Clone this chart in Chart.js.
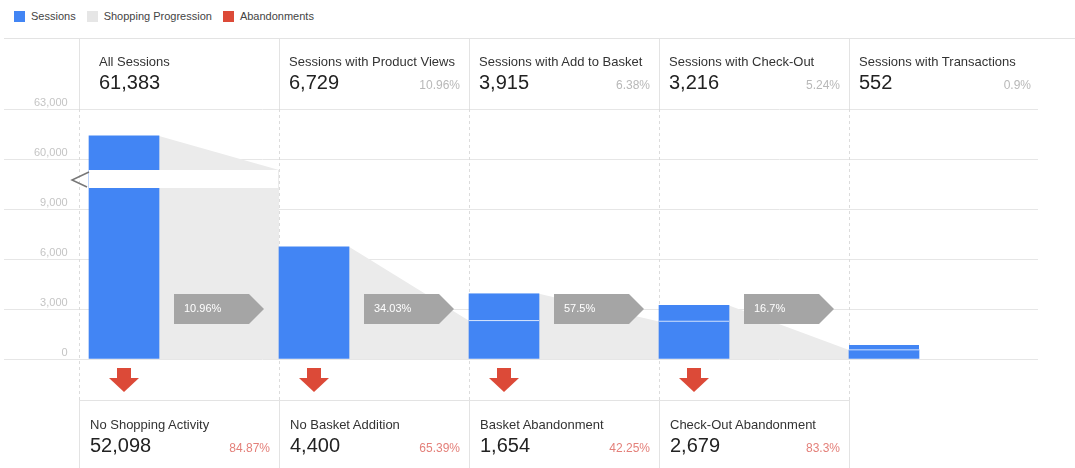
<!DOCTYPE html>
<html>
<head>
<meta charset="utf-8">
<script src="https://cdn.jsdelivr.net/npm/chart.js@4.4.1/dist/chart.umd.min.js"></script>
<style>
  html, body { margin: 0; padding: 0; background: #fff; }
  body { width: 1075px; height: 468px; position: relative; overflow: hidden;
         font-family: Arial, "Liberation Sans", sans-serif; }
  canvas { position: absolute; left: 0; top: 0; }
  #legend { position: absolute; left: 14px; top: 11px; display: flex; align-items: center;
            font-size: 11px; color: #444; line-height: 11px; }
  #legend .item { display: flex; align-items: center; margin-right: 11px; }
  #legend .sw { width: 11px; height: 11px; margin-right: 6px; }
  .topline { position: absolute; left: 4px; right: 0; top: 38px; border-top: 1px solid #e3e3e3; }
  .cell { position: absolute; box-sizing: border-box; border-left: 1px solid #e3e3e3; }
  .cell .t { font-size: 13px; line-height: 15px; color: #333; white-space: nowrap; }
  .cell .v { display: flex; justify-content: space-between; align-items: baseline; margin-top: 2px; }
  .cell .n { font-size: 20px; line-height: 22px; color: #222; }
  .cell .p { font-size: 12px; color: #b8b8b8; }
  .head { top: 39px; height: 70px; padding-top: 15px; padding-right: 9px; }
  .foot { top: 400px; height: 68px; border-top: 1px solid #e3e3e3; padding-top: 16px; padding-right: 9px; }
  .foot .p { font-size: 12px; color: #e4807a; }
</style>
</head>
<body>
<div id="legend">
  <div class="item"><div class="sw" style="background:#4285f4"></div>Sessions</div>
  <div class="item"><div class="sw" style="background:#e6e6e6"></div>Shopping Progression</div>
  <div class="item"><div class="sw" style="background:#dc4a38"></div>Abandonments</div>
</div>
<div class="topline"></div>
<canvas id="chart" width="1075" height="468"></canvas>
<script>
// funnel steps
const steps = ['All Sessions', 'Sessions with Product Views', 'Sessions with Add to Basket',
               'Sessions with Check-Out', 'Sessions with Transactions'];
const sessions = [61383, 6729, 3915, 3216, 552];
const stepShare = [null, '10.96%', '6.38%', '5.24%', '0.9%'];

// sessions moving on from step i to step i+1
const progressRate = ['10.96%', '34.03%', '57.5%', '16.7%'];
const progressed = [6727, 2290, 2251, 537];

// abandonments under each step
const dropLabels = ['No Shopping Activity', 'No Basket Addition', 'Basket Abandonment', 'Check-Out Abandonment'];
const dropped = [52098, 4400, 1654, 2679];
const dropRate = ['84.87%', '65.39%', '42.25%', '83.3%'];

const yTicks = [0, 3000, 6000, 9000, 60000, 63000];

// broken y axis: 10,260 .. 59,340 is cut out
const BREAK_LOW = 10260;
const BREAK_TOP = 59340;
const BREAK_SHIFT = 48000;
const squash = v => (v >= BREAK_TOP ? v - BREAK_SHIFT : v);

const BLUE = '#4285f4';
const RED = '#dc4a38';
const BAR_W = 70;
const STEP_PX = 190;
const HW = BAR_W / 2 / STEP_PX;

const barLeft = (chart, i) => chart.scales.x.getPixelForValue(i) - BAR_W / 2;
const colLeft = (chart, i) => barLeft(chart, i) - (i === 0 ? 10 : 0);

const areas = progressed.map((to, i) => {
  const from = sessions[i];
  const end = from >= BREAK_TOP && to < BREAK_TOP ? BREAK_TOP : to;
  return {
    type: 'line',
    label: 'Shopping Progression',
    data: [{ x: i + HW, y: squash(from) }, { x: i + 1 - HW, y: squash(end) }],
    fill: 'origin',
    backgroundColor: '#ebebeb',
    borderWidth: 0,
    pointRadius: 0,
    order: 3
  };
});

const funnelDecor = {
  id: 'funnelDecor',
  beforeDatasetsDraw(chart) { chart.$dashDone = false; },
  beforeDatasetDraw(chart, args) {
    if (args.meta.type !== 'bar' || chart.$dashDone) return;
    chart.$dashDone = true;
    const { ctx, chartArea } = chart;
    ctx.save();
    ctx.strokeStyle = '#dcdcdc';
    ctx.lineWidth = 1;
    ctx.setLineDash([3, 3]);
    for (let i = 0; i < steps.length; i++) {
      const x = Math.round(colLeft(chart, i)) + 0.5;
      ctx.beginPath();
      ctx.moveTo(x, chartArea.top);
      ctx.lineTo(x, chartArea.bottom + 41);
      ctx.stroke();
    }
    ctx.restore();
  },
  afterDatasetsDraw(chart) {
    const { ctx } = chart;
    const y = chart.scales.y;
    const yTop = y.getPixelForValue(squash(BREAK_TOP));
    const yLow = y.getPixelForValue(BREAK_LOW);
    const x0 = barLeft(chart, 0);
    const x1 = barLeft(chart, 1) - 1;
    ctx.save();
    ctx.fillStyle = '#fff';
    ctx.fillRect(x0, yTop, x1 - x0, yLow - yTop);
    // break marker
    ctx.strokeStyle = '#777';
    ctx.lineWidth = 1.5;
    ctx.beginPath();
    ctx.moveTo(x0, yTop + 2);
    ctx.lineTo(x0 - 17, yTop + 10);
    ctx.lineTo(x0 - 2, yLow - 1);
    ctx.stroke();
    ctx.restore();
  },
  afterDraw(chart) {
    const { ctx, chartArea } = chart;
    const xs = chart.scales.x;
    ctx.save();
    // progression badges
    progressRate.forEach((txt, i) => {
      const l = xs.getPixelForValue(i) + BAR_W / 2 + 15;
      const cy = chartArea.bottom - 50;
      ctx.fillStyle = '#a5a5a5';
      ctx.beginPath();
      ctx.moveTo(l, cy - 15);
      ctx.lineTo(l + 75, cy - 15);
      ctx.lineTo(l + 90, cy);
      ctx.lineTo(l + 75, cy + 15);
      ctx.lineTo(l, cy + 15);
      ctx.closePath();
      ctx.fill();
      ctx.fillStyle = '#fff';
      ctx.font = '11px Arial, "Liberation Sans", sans-serif';
      ctx.textBaseline = 'middle';
      ctx.fillText(txt, l + 10, cy);
    });
    // abandonment arrows
    ctx.fillStyle = RED;
    dropped.forEach((v, i) => {
      const cx = xs.getPixelForValue(i);
      const t = chartArea.bottom + 9;
      ctx.fillRect(cx - 7, t, 14, 10);
      ctx.beginPath();
      ctx.moveTo(cx - 15, t + 10);
      ctx.lineTo(cx + 15, t + 10);
      ctx.lineTo(cx, t + 24);
      ctx.closePath();
      ctx.fill();
    });
    ctx.restore();
  }
};

const chart = new Chart(document.getElementById('chart'), {
  data: {
    datasets: [
      {
        type: 'bar',
        label: 'Sessions',
        data: progressed.slice(1).map((v, k) => ({ x: k + 2, y: [squash(v), squash(sessions[k + 2])] })),
        backgroundColor: BLUE,
        borderColor: '#fff',
        borderWidth: { top: 0, right: 0, bottom: 1, left: 0 },
        borderSkipped: false,
        minBarLength: 5,
        barThickness: BAR_W,
        grouped: false,
        order: 1
      },
      {
        type: 'bar',
        label: 'Sessions',
        data: sessions.map((v, i) => ({ x: i, y: squash(v) })),
        backgroundColor: BLUE,
        barThickness: BAR_W,
        grouped: false,
        order: 2
      },
      ...areas
    ]
  },
  options: {
    responsive: false,
    animation: false,
    events: [],
    layout: { padding: { left: 4, right: 37, top: 109, bottom: 109 } },
    plugins: { legend: { display: false }, tooltip: { enabled: false } },
    scales: {
      x: {
        type: 'linear',
        display: false,
        offset: false,
        min: -(120 / STEP_PX),
        max: 4 + 154 / STEP_PX
      },
      y: {
        type: 'linear',
        min: 0,
        max: squash(63000),
        afterBuildTicks: s => { s.ticks = yTicks.map(v => ({ value: squash(v) })); },
        afterFit: s => { s.width = 0; },
        border: { display: false },
        grid: { color: '#e6e6e6', drawTicks: false },
        ticks: {
          mirror: true,
          crossAlign: 'far',
          padding: 30,
          labelOffset: -6,
          color: '#c4c4c4',
          font: { size: 11, family: 'Arial, "Liberation Sans", sans-serif' },
          callback: (v, i) => yTicks[i].toLocaleString('en-US')
        }
      }
    }
  },
  plugins: [funnelDecor]
});

// header and footer cells, placed on the chart's x scale
const rightEdge = chart.chartArea.right + 2;
steps.forEach((name, i) => {
  const l = Math.round(colLeft(chart, i));
  const r = i < steps.length - 1 ? Math.round(colLeft(chart, i + 1)) : rightEdge;
  const pad = Math.round(barLeft(chart, i)) + 10 - l - 1;
  const d = document.createElement('div');
  d.className = 'cell head';
  d.style.left = l + 'px';
  d.style.width = (r - l) + 'px';
  d.style.paddingLeft = pad + 'px';
  d.innerHTML = '<div class="t">' + name + '</div><div class="v"><span class="n">' +
    sessions[i].toLocaleString('en-US') + '</span><span class="p">' + (stepShare[i] || '') + '</span></div>';
  document.body.appendChild(d);
});
dropLabels.forEach((name, i) => {
  const l = Math.round(colLeft(chart, i));
  const r = Math.round(colLeft(chart, i + 1));
  const d = document.createElement('div');
  d.className = 'cell foot';
  d.style.left = l + 'px';
  d.style.width = (r - l + (i === dropLabels.length - 1 ? 1 : 0)) + 'px';
  d.style.paddingLeft = '10px';
  if (i === dropLabels.length - 1) d.style.borderRight = '1px solid #e3e3e3';
  d.innerHTML = '<div class="t">' + name + '</div><div class="v"><span class="n">' +
    dropped[i].toLocaleString('en-US') + '</span><span class="p">' + dropRate[i] + '</span></div>';
  document.body.appendChild(d);
});
</script>
</body>
</html>
